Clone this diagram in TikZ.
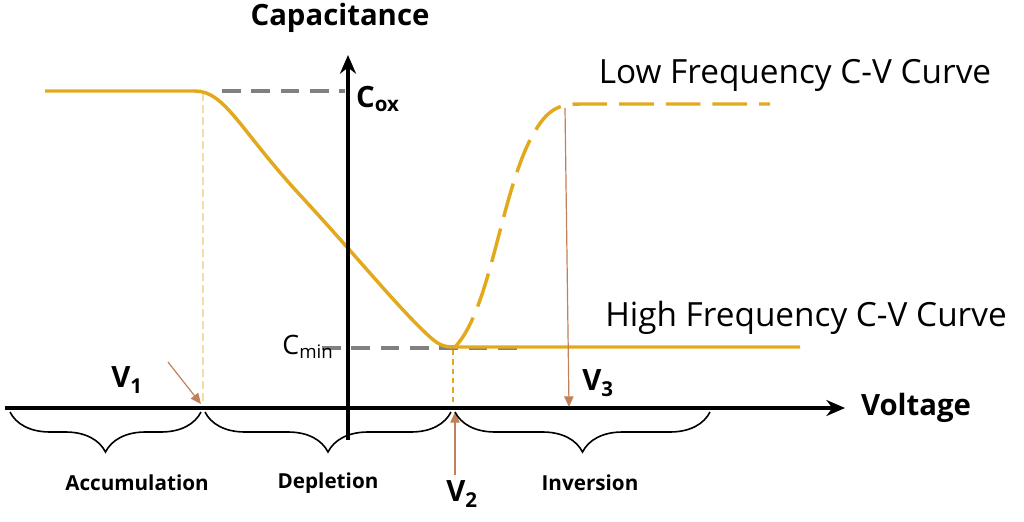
\documentclass[tikz,border=0pt]{standalone}
\usepackage{fontspec}
\setmainfont{Open Sans}
\usetikzlibrary{decorations.pathreplacing,arrows.meta}
\definecolor{gold}{HTML}{E2A91C}
\definecolor{brn}{HTML}{C0805A}
\tikzset{axis/.style={line width=3pt,-{Stealth[length=14pt,width=12pt]}},
 curve/.style={gold,line width=2.6pt},
 guide/.style={gray,line width=3pt,dash pattern=on 14pt off 8pt},
 marker/.style={brn,line width=0.9pt,-{Triangle[length=8pt,width=7pt]}},
 brc/.style={decorate,decoration={brace,mirror,amplitude=30pt},line width=1.2pt},
 lbl/.style={font=\bfseries\fontsize{22}{26}\selectfont},
 sm/.style={font=\bfseries\fontsize{15.5}{18}\selectfont},
 big/.style={font=\fontsize{25}{30}\selectfont}}
\begin{document}
\begin{tikzpicture}[x=0.75pt,y=-0.75pt]
\useasboundingbox (0,0) rectangle (1024,521);
% guides
\draw[guide] (222,91) -- (345,91);
\draw[guide] (322,348) -- (520,348);
\draw[gold!40,line width=1pt,dash pattern=on 6pt off 3pt] (203,93) -- (203,405);
\draw[gold,line width=1.5pt,dash pattern=on 4pt off 3pt] (453,350) -- (453,405);
% curves
\draw[curve] (45,91) -- (195,91) .. controls (225,91) and (240,130) .. (300,195)
  .. controls (360,260) and (400,310) .. (430,337) .. controls (440,346) and (445,347) .. (455,347) -- (800,347);
\draw[curve,dash pattern=on 26pt off 9pt] (455,347) .. controls (490,310) and (500,200) .. (530,140)
  .. controls (545,112) and (555,104) .. (580,104) -- (770,104);
% axes
\draw[axis] (5,408) -- (845,408);
\draw[axis] (348,440) -- (348,55);
\node[lbl] (cap) at (340,18) {Capacitance};
\node[lbl] (volt) at (916,408) {Voltage};
\node[lbl] (cox) at (378,99) {C\textsubscript{ox}};
\node[font=\fontsize{20}{22}\selectfont] (cmin) at (308,347) {C\textsubscript{min}};
\node[big] (lf) at (795,75) {Low Frequency C-V Curve};
\node[big] (hf) at (806,318) {High Frequency C-V Curve};
% markers
\coordinate (p1) at (201,404);
\coordinate (p2) at (455,412);
\coordinate (p3) at (569,407);
\node[lbl] (v1) at (127,380) {V\textsubscript{1}};
\node[lbl] (v2) at (462,494) {V\textsubscript{2}};
\node[lbl] (v3) at (598,383) {V\textsubscript{3}};
\coordinate (s1) at (168,362);
\coordinate (s2) at (455,475);
\coordinate (s3) at (565,108);
\draw[marker] (s1) -- (p1);
\draw[marker] (s2) -- (p2);
\draw[marker] (s3) -- (p3);
% braces
\draw[brc] (10,412) -- (201,412);
\draw[brc] (205,412) -- (451,412);
\draw[brc] (455,412) -- (710,412);
\node[sm] (acc) at (137,483) {Accumulation};
\node[sm] (dep) at (328,483) {Depletion};
\node[sm] (inv) at (590,483) {Inversion};
\end{tikzpicture}
\end{document}
